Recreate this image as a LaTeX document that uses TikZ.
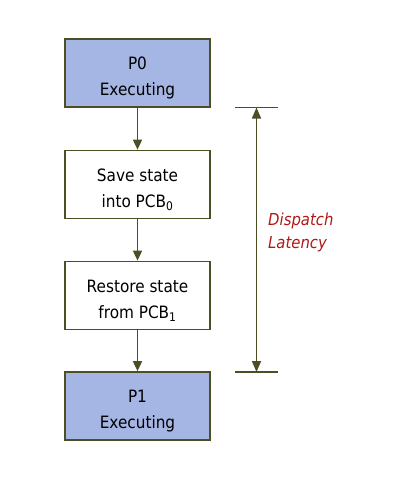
\documentclass[tikz,border=0pt]{standalone}
\usepackage{fontspec}
\setmainfont{DejaVu Sans Condensed}
\usetikzlibrary{arrows.meta}
\definecolor{boxblue}{RGB}{165,182,228}
\definecolor{olive}{RGB}{78,78,36}
\definecolor{latred}{RGB}{176,24,24}
\tikzset{
  stepbox/.style={draw=olive, line width=1.7pt, minimum width=145pt, minimum height=68pt, inner sep=0pt},
  procbox/.style={stepbox, fill=boxblue},
  boxtext/.style={align=center, inner sep=0pt, font=\fontsize{17}{26}\selectfont},
  flow/.style={draw=olive, line width=1.7pt, -{Triangle[length=10pt,width=9pt]}},
  dim/.style={draw=olive, line width=1.7pt, {Triangle[length=11pt,width=9pt]}-{Triangle[length=11pt,width=9pt]}},
  tick/.style={draw=olive, line width=1.5pt}
}
\begin{document}
\begin{tikzpicture}[x=1pt,y=-1pt]
\useasboundingbox (0,0) rectangle (400,482);
\node[procbox] (p0) at (137.5,73) {};
\node[stepbox] (save) at (137.5,184.5) {};
\node[stepbox] (restore) at (137.5,295.5) {};
\node[procbox] (p1) at (137.5,406) {};
\node[boxtext] (p0t) at ([yshift=-5pt]p0.center) {P0\\Executing};
\node[boxtext] (savet) at ([yshift=-5pt]save.center) {Save state\\into PCB\textsubscript{0}};
\node[boxtext] (restoret) at ([yshift=-5pt]restore.center) {Restore state\\from PCB\textsubscript{1}};
\node[boxtext] (p1t) at ([yshift=-5pt]p1.center) {P1\\Executing};
\draw[flow] (p0) -- (save);
\draw[flow] (save) -- (restore);
\draw[flow] (restore) -- (p1);
\coordinate (tl) at (235,107.5);
\coordinate (tr) at (278,107.5);
\coordinate (bl) at (235,372);
\coordinate (br) at (278,372);
\coordinate (dt) at (256.5,107.5);
\coordinate (db) at (256.5,372);
\draw[tick] (tl) -- (tr);
\draw[tick] (bl) -- (br);
\draw[dim] (dt) -- (db);
\node[anchor=west, align=left, text=latred, inner sep=0pt, font=\fontsize{16.5}{23}\selectfont\itshape] (lat) at (268,232) {Dispatch\\Latency};
\end{tikzpicture}
\end{document}
